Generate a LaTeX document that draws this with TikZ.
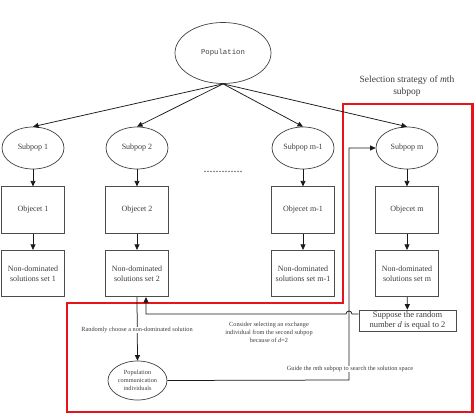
\documentclass[tikz,border=0pt]{standalone}
\usepackage{fontspec}
\setmainfont{Liberation Serif}
\newfontfamily\monof{Liberation Mono}
\usetikzlibrary{arrows.meta,shapes.geometric}
\definecolor{frame}{HTML}{E8141C}
\definecolor{txt}{HTML}{3C3C3C}
\begin{document}
\begin{tikzpicture}[x=1pt,y=-1pt,
  ell/.style={draw=black!75, ellipse, minimum width=62pt, minimum height=42pt, inner sep=0pt, text=txt, line width=0.7pt, font=\fontsize{8}{9}\selectfont},
  bx/.style={draw=black!70, rectangle, minimum width=63pt, minimum height=46.5pt, inner sep=1pt, align=center, text=txt, line width=0.7pt, font=\fontsize{8}{10}\selectfont},
  arr/.style={-{Triangle[length=5.5pt,width=5pt]}, draw=black!90, line width=0.75pt},
  lbl/.style={font=\fontsize{6.3}{8}\selectfont, text=txt, align=center, inner sep=0.5pt},
]
\useasboundingbox (0,0) rectangle (474,415);
% population
\node[ell, minimum width=96pt, minimum height=61pt, font=\monof\fontsize{7.3}{8}\selectfont] (pop) at (223,53) {Population};
% subpops
\node[ell] (s1) at (33,148) {Subpop 1};
\node[ell] (s2) at (137,148) {Subpop 2};
\node[ell] (s3) at (303,148) {Subpop m-1};
\node[ell] (s4) at (407,148) {Subpop m};
% objects
\node[bx] (o1) at (33,210) {Objecet 1};
\node[bx] (o2) at (137,210) {Objecet 2};
\node[bx] (o3) at (303,210) {Objecet m-1};
\node[bx] (o4) at (407,210) {Objecet m};
% non-dominated
\node[bx] (n1) at (33,273.5) {Non-dominated\\solutions set 1};
\node[bx] (n2) at (137,273.5) {Non-dominated\\solutions set 2};
\node[bx] (n3) at (303,273.5) {Non-dominated\\solutions set m-1};
\node[bx] (n4) at (407,273.5) {Non-dominated\\solutions set m};
% dots
\node[text=txt, font=\fontsize{12}{12}\selectfont, inner sep=0pt] (dots) at (223,172) {.............};
% title
\node[text=txt, align=center, font=\fontsize{9.5}{12}\selectfont] (title) at (407,86) {Selection strategy of \textit{m}th\\subpop};
% suppose box
\node[draw=black!70, line width=0.7pt, minimum width=97pt, minimum height=21pt, inner sep=1pt, align=center, text=txt, font=\fontsize{8.5}{10}\selectfont] (sup) at (407.5,320.5) {Suppose the random\\number \textit{d} is equal to 2};
% population communication
\node[ell, minimum width=59pt, minimum height=39pt, align=center, font=\fontsize{6.3}{8}\selectfont] (pc) at (137.5,380.5) {Population\\communication\\individuals};
% red frame
\draw[frame, line width=2.6pt] (343,104) -- (472.5,104) -- (472.5,412) -- (67,412) -- (67,303) -- (343,303) -- cycle;
% arrows
\foreach \s in {s1,s2,s3,s4} \draw[arr] (pop.south) -- (\s.north);
\draw[arr] (s1) -- (o1); \draw[arr] (o1) -- (n1);
\draw[arr] (s2) -- (o2); \draw[arr] (o2) -- (n2);
\draw[arr] (s3) -- (o3); \draw[arr] (o3) -- (n3);
\draw[arr] (s4) -- (o4); \draw[arr] (o4) -- (n4);
\draw[arr] (n4) -- (sup);
\draw[arr] (n2.south) -- (pc.north);
\node[lbl, fill=white] (l1) at (137,330) {Randomly choose a non-dominated solution};
\coordinate (g) at (349,380);
\draw[arr] (pc.east) -- (g) |- (s4.west);
\draw[arr] ([yshift=6.5pt]sup.west) -- (352,314) arc (0:180:3pt) -- (146,314) -- ([xshift=9pt]n2.south);
\node[lbl] (l2) at (269,332) {Consider selecting an exchange\\individual from the second subpop\\because of \textit{d}=2};
\node[lbl, fill=white] (l3) at (350,369) {Guide the \textit{m}th subpop to search the solution space};
\end{tikzpicture}
\end{document}
